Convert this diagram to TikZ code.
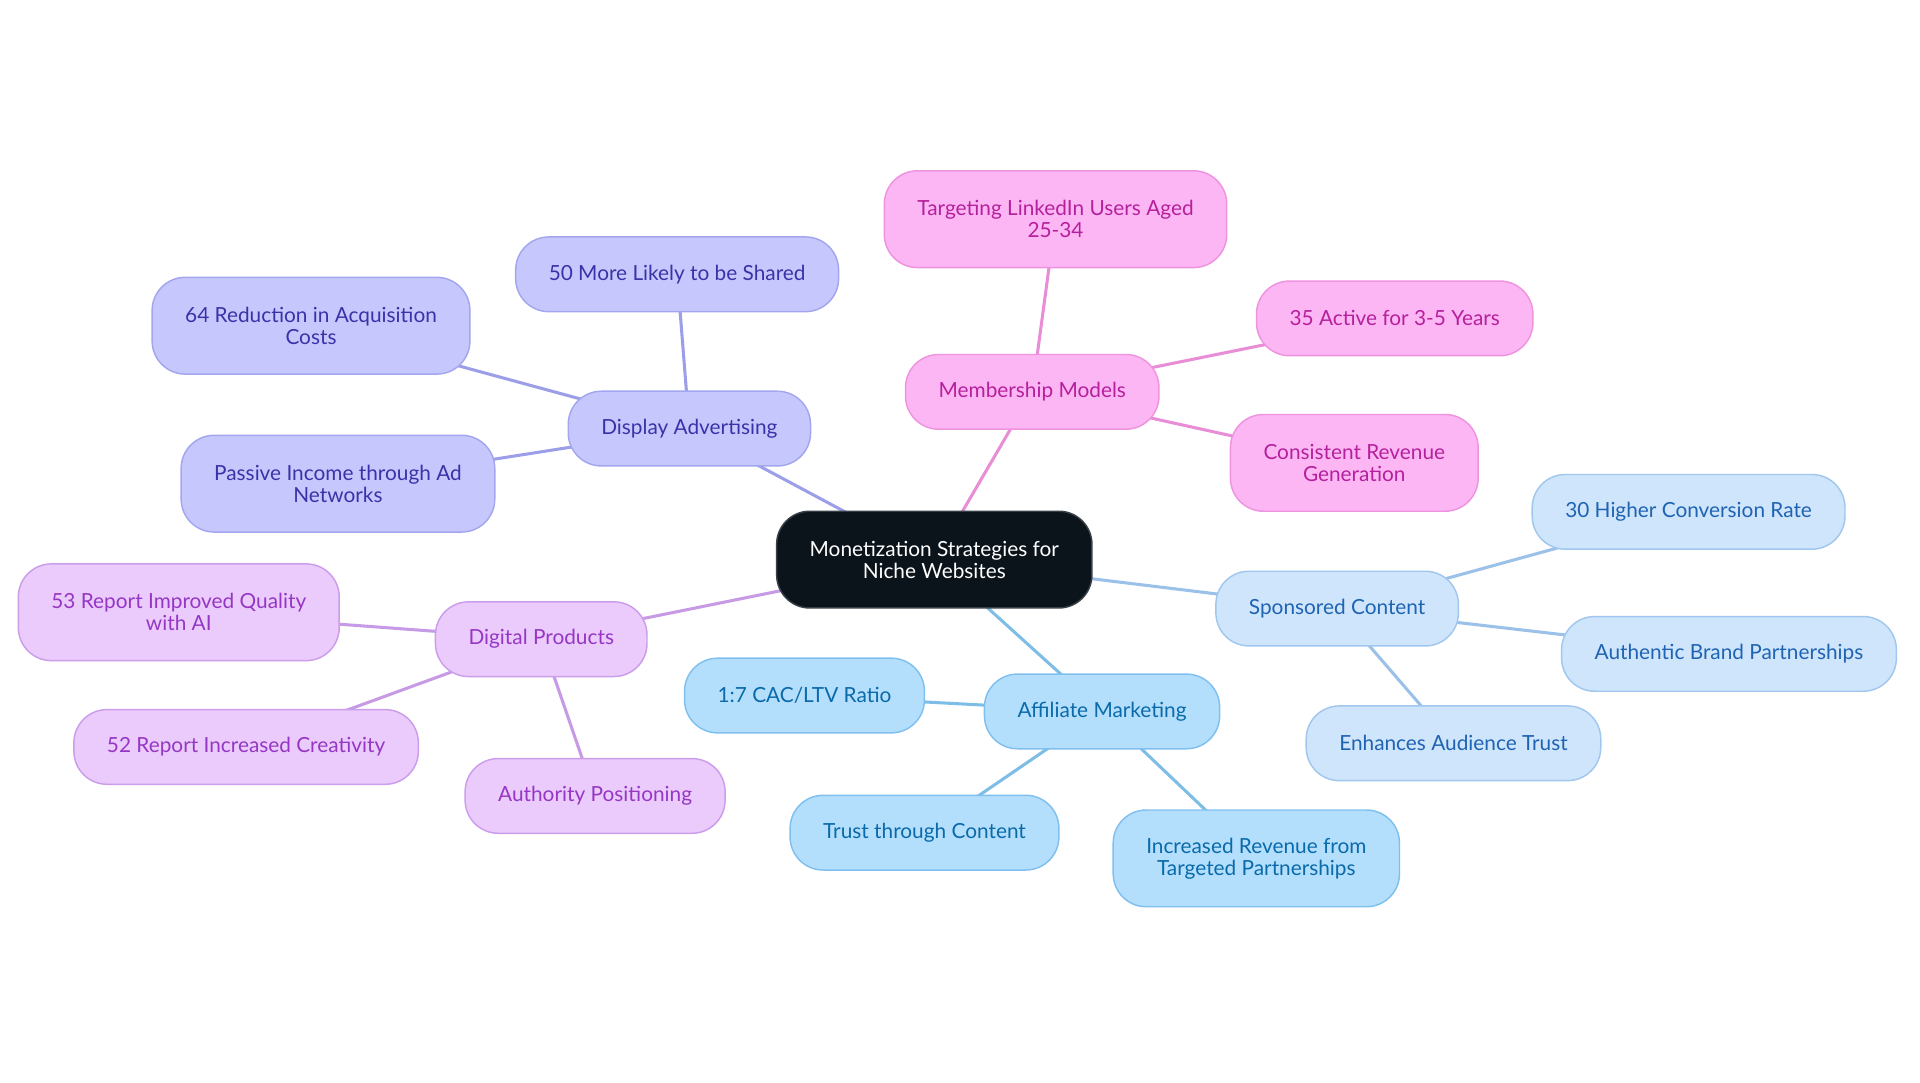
\documentclass[tikz,border=0pt]{standalone}
\usepackage{fontspec}
\setmainfont{Lato}
\usetikzlibrary{backgrounds}

\definecolor{rootfill}{HTML}{0B131B}
\definecolor{rootdraw}{HTML}{3A4048}
\definecolor{dispfill}{HTML}{C6C8FD}
\definecolor{dispdraw}{HTML}{A3A6EE}
\definecolor{disptext}{HTML}{3A33A8}
\definecolor{displine}{HTML}{9C9FE8}
\definecolor{membfill}{HTML}{FDB6F4}
\definecolor{membdraw}{HTML}{EE94DE}
\definecolor{membtext}{HTML}{B5209C}
\definecolor{membline}{HTML}{E88ED7}
\definecolor{digifill}{HTML}{EBCBFC}
\definecolor{digidraw}{HTML}{CB9DEA}
\definecolor{digitext}{HTML}{9537C4}
\definecolor{digiline}{HTML}{C79AE6}
\definecolor{afffill}{HTML}{B3DFFC}
\definecolor{affdraw}{HTML}{80C0EE}
\definecolor{afftext}{HTML}{0A6AAA}
\definecolor{affline}{HTML}{7DBDE6}
\definecolor{sponfill}{HTML}{CEE5FB}
\definecolor{spondraw}{HTML}{A2C7EF}
\definecolor{spontext}{HTML}{1F63B3}
\definecolor{sponline}{HTML}{9BC1E8}

\begin{document}
\begin{tikzpicture}[%
  x=1pt,
  y=-1pt,
  box/.style={rounded corners=27pt, inner xsep=27pt, inner ysep=0pt,
    minimum height=61pt, align=center, line width=1.2pt,
    font=\fontsize{17}{18}\selectfont},
  tall/.style={minimum height=79pt},
  rootbox/.style={box, tall, fill=rootfill, draw=rootdraw, text=white},
  dispbox/.style={box, fill=dispfill, draw=dispdraw, text=disptext},
  membbox/.style={box, fill=membfill, draw=membdraw, text=membtext},
  digibox/.style={box, fill=digifill, draw=digidraw, text=digitext},
  affbox/.style={box, fill=afffill, draw=affdraw, text=afftext},
  sponbox/.style={box, fill=sponfill, draw=spondraw, text=spontext},
  link/.style={line width=2.5pt},
]

  \useasboundingbox (0,0) rectangle (1568,884);

  \node[rootbox] (root) at (763,457) {Monetization Strategies for\\Niche Websites};

  % display advertising
  \node[dispbox] (disp) at (563,350) {Display Advertising};
  \node[dispbox] (disp1) at (553,224) {50 More Likely to be Shared};
  \node[dispbox, tall] (disp2) at (254,266) {64 Reduction in Acquisition\\Costs};
  \node[dispbox, tall] (disp3) at (276,395) {Passive Income through Ad\\Networks};

  % membership models
  \node[membbox] (memb) at (843,320) {Membership Models};
  \node[membbox, tall] (memb1) at (862,179) {Targeting LinkedIn Users Aged\\25-34};
  \node[membbox] (memb2) at (1139,260) {35 Active for 3-5 Years};
  \node[membbox, tall] (memb3) at (1106,378) {Consistent Revenue\\Generation};

  % digital products
  \node[digibox] (digi) at (442,522) {Digital Products};
  \node[digibox, tall] (digi1) at (146,500) {53 Report Improved Quality\\with AI};
  \node[digibox] (digi2) at (201,610) {52 Report Increased Creativity};
  \node[digibox] (digi3) at (486,650) {Authority Positioning};

  % affiliate marketing
  \node[affbox] (aff) at (900,581) {Affiliate Marketing};
  \node[affbox] (aff1) at (657,568) {1:7 CAC/LTV Ratio};
  \node[affbox] (aff2) at (755,680) {Trust through Content};
  \node[affbox, tall] (aff3) at (1026,701) {Increased Revenue from\\Targeted Partnerships};

  % sponsored content
  \node[sponbox] (spon) at (1092,497) {Sponsored Content};
  \node[sponbox] (spon1) at (1379,418) {30 Higher Conversion Rate};
  \node[sponbox] (spon2) at (1412,534) {Authentic Brand Partnerships};
  \node[sponbox] (spon3) at (1187,607) {Enhances Audience Trust};

  % links run centre to centre, under the boxes
  \begin{pgfonlayer}{background}
    \draw[link, displine] (root.center) -- (disp.center);
    \draw[link, displine] (disp.center) -- (disp1.center) (disp.center) -- (disp2.center) (disp.center) -- (disp3.center);
    \draw[link, membline] (root.center) -- (memb.center);
    \draw[link, membline] (memb.center) -- (memb1.center) (memb.center) -- (memb2.center) (memb.center) -- (memb3.center);
    \draw[link, digiline] (root.center) -- (digi.center);
    \draw[link, digiline] (digi.center) -- (digi1.center) (digi.center) -- (digi2.center) (digi.center) -- (digi3.center);
    \draw[link, affline] (root.center) -- (aff.center);
    \draw[link, affline] (aff.center) -- (aff1.center) (aff.center) -- (aff2.center) (aff.center) -- (aff3.center);
    \draw[link, sponline] (root.center) -- (spon.center);
    \draw[link, sponline] (spon.center) -- (spon1.center) (spon.center) -- (spon2.center) (spon.center) -- (spon3.center);
  \end{pgfonlayer}

\end{tikzpicture}
\end{document}
